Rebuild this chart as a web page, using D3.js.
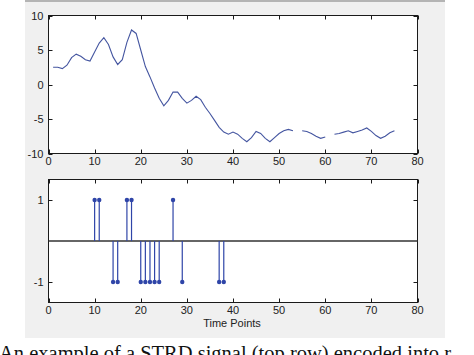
<!DOCTYPE html>
<html><head><meta charset="utf-8">
<script src="https://cdn.jsdelivr.net/npm/d3@7"></script>
<style>
html,body{margin:0;padding:0;background:#fff;overflow:hidden;}
svg{display:block;}
</style></head>
<body>
<svg id="c" width="474" height="355"></svg>
<script>
// ---- data ----
const timePoints = d3.range(1, 76);
const signalValues = [
  2.5, 2.5, 2.3, 2.8, 3.9, 4.4, 4.1, 3.6, 3.4, 4.7,
  6.0, 6.8, 5.8, 4.0, 2.9, 3.6, 6.1, 7.9, 7.4, 5.0,
  2.6, 1.1, -0.5, -2.0, -3.1, -2.3, -1.1, -1.1, -2.0, -2.7,
  -2.3, -1.7, -2.2, -3.3, -4.2, -5.2, -6.2, -6.9, -7.2, -6.9,
  -7.2, -7.8, -8.3, -7.7, -6.8, -7.1, -7.8, -8.3, -7.7, -7.1,
  -6.7, -6.5, -6.7, null, -6.7, -6.8, -7.1, -7.5, -7.8, -7.6,
  null, -7.2, -7.1, -6.9, -6.7, -7.0, -6.8, -6.6, -6.3, -6.8,
  -7.4, -7.8, -7.5, -7.0, -6.7
];
const spikeTimes  = [10, 11, 14, 15, 17, 18, 20, 21, 22, 23, 24, 27, 29, 37, 38];
const spikeValues = [ 1,  1, -1, -1,  1,  1, -1, -1, -1, -1, -1,  1, -1, -1, -1];
const xTicks = [0, 10, 20, 30, 40, 50, 60, 70, 80];
const yTicksTop = [-10, -5, 0, 5, 10];
const yTicksBottom = [-1, 1];
const xLabel = "Time Points";
const caption = "An example of a STRD signal (top row) encoded into r";

// ---- layout ----
const svg = d3.select("#c");
svg.append("rect").attr("x",25).attr("y",0).attr("width",420).attr("height",338).attr("fill","#f0f0f0");
svg.append("rect").attr("x",25).attr("y",0).attr("width",420).attr("height",2).attr("fill","#b4b4b4");

const L = 48.5, R = 417.5;
const x = d3.scaleLinear().domain([0, 80]).range([L, R]);
const yTop = d3.scaleLinear().domain([-10, 10]).range([153.5, 15.5]);
const yBot = d3.scaleLinear().domain([-1.5, 1.5]).range([302.5, 179.5]);

const font = "Liberation Sans, Arial, sans-serif";
const tickCol = "#222";

function frame(y, yTicks, yFmt) {
  const [b, t] = y.range();
  const g = svg.append("g");
  g.append("rect").attr("x", L).attr("y", t).attr("width", R - L).attr("height", b - t)
    .attr("fill", "#fff").attr("stroke", "#1a1a1a").attr("stroke-width", 1);
  const tl = 4;
  xTicks.forEach(v => {
    const xx = Math.round(x(v)) + 0.5;
    g.append("line").attr("x1", xx).attr("x2", xx).attr("y1", b).attr("y2", b - tl).attr("stroke", "#1a1a1a");
    g.append("line").attr("x1", xx).attr("x2", xx).attr("y1", t).attr("y2", t + tl).attr("stroke", "#1a1a1a");
    g.append("text").attr("x", x(v)).attr("y", b + 11.5).attr("text-anchor", "middle")
      .attr("font-family", font).attr("font-size", 11).attr("fill", tickCol).text(v);
  });
  yTicks.forEach(v => {
    const yy = Math.round(y(v)) + 0.5;
    g.append("line").attr("x1", L).attr("x2", L + tl).attr("y1", yy).attr("y2", yy).attr("stroke", "#1a1a1a");
    g.append("line").attr("x1", R).attr("x2", R - tl).attr("y1", yy).attr("y2", yy).attr("stroke", "#1a1a1a");
    g.append("text").attr("x", L - 5).attr("y", y(v) + 4).attr("text-anchor", "end")
      .attr("font-family", font).attr("font-size", 11).attr("fill", tickCol).text(yFmt(v));
  });
}

frame(yTop, yTicksTop, d => d);
frame(yBot, yTicksBottom, d => d);

// top signal
const pts = timePoints.map((t, i) => ({t, v: signalValues[i]}));
const line = d3.line().defined(d => d.v !== null).x(d => x(d.t)).y(d => yTop(d.v));
svg.append("path").datum(pts).attr("d", line).attr("fill", "none")
  .attr("stroke", "#4455a0").attr("stroke-width", 1.1);

// bottom baseline
svg.append("line").attr("x1", L).attr("x2", R).attr("y1", yBot(0)).attr("y2", yBot(0))
  .attr("stroke", "#333").attr("stroke-width", 1.5);

// stems
const spikes = spikeTimes.map((t, i) => ({t, v: spikeValues[i]}));
svg.append("g").selectAll("line").data(spikes).join("line")
  .attr("x1", d => x(d.t)).attr("x2", d => x(d.t))
  .attr("y1", yBot(0)).attr("y2", d => yBot(d.v))
  .attr("stroke", "#2f45a8").attr("stroke-width", 1.2);
svg.append("g").selectAll("circle").data(spikes).join("circle")
  .attr("cx", d => x(d.t)).attr("cy", d => yBot(d.v)).attr("r", 2.2)
  .attr("fill", "#2f45a8");

// labels
svg.append("text").attr("x", 232).attr("y", 327).attr("text-anchor", "middle")
  .attr("font-family", font).attr("font-size", 11).attr("fill", tickCol).text(xLabel);
svg.append("text").attr("x", -1).attr("y", 360).attr("font-family", "Liberation Serif, Times New Roman, serif")
  .attr("font-size", 20.5).attr("fill", "#111").text(caption);
</script>
</body></html>
